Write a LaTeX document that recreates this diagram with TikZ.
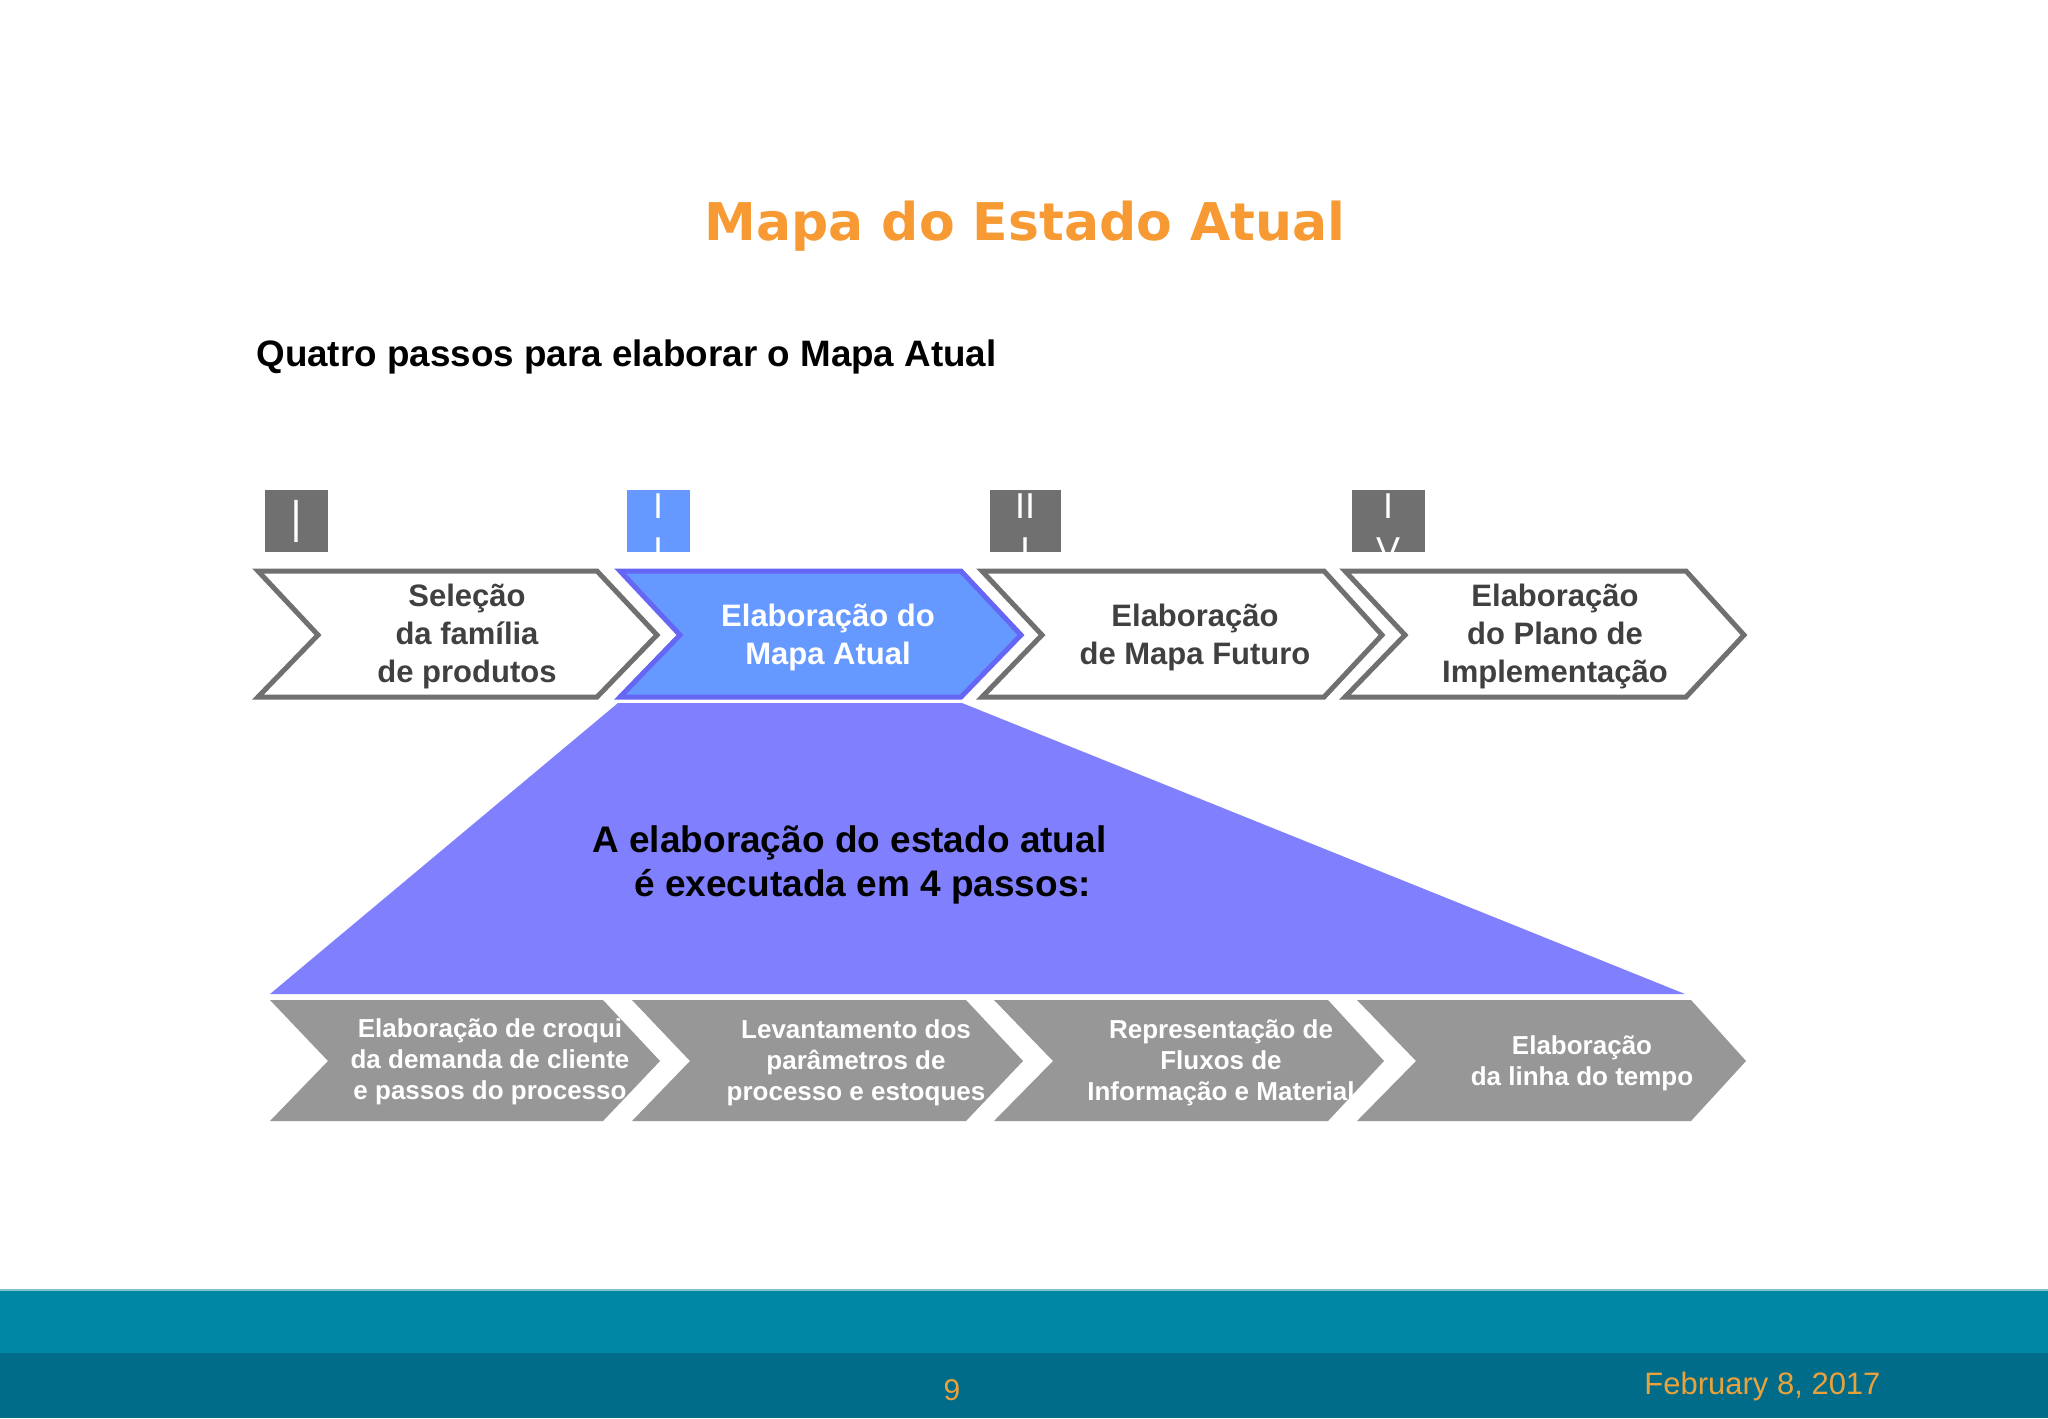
\documentclass[tikz,border=0pt]{standalone}
\usepackage{fontspec}
\setmainfont{Liberation Sans}
\newfontfamily\titlefont{DejaVu Sans}
\usetikzlibrary{positioning}
\definecolor{titleorange}{HTML}{F79A33}
\definecolor{chevgray}{HTML}{707070}
\definecolor{chevtext}{HTML}{404040}
\definecolor{stepblue}{HTML}{6699FF}
\definecolor{stepedge}{HTML}{6666F5}
\definecolor{trapblue}{HTML}{8080FF}
\definecolor{lowgray}{HTML}{979797}
\definecolor{bandtop}{HTML}{0087A3}
\definecolor{bandlow}{HTML}{006C89}
\definecolor{dateorange}{HTML}{E9A23B}

\begin{document}
\begin{tikzpicture}[x=0.5pt, y=-0.5pt,
  topchev/.style={draw=chevgray, line width=2.5pt, fill=white, line join=miter},
  curchev/.style={draw=stepedge, line width=2.5pt, fill=stepblue, line join=miter},
  lowchev/.style={fill=lowgray},
  toptext/.style={align=center, text=chevtext, font=\fontsize{15.5}{19}\selectfont\bfseries},
  lowtext/.style={align=center, text=white, font=\fontsize{13}{15.5}\selectfont\bfseries},
  numbox/.style={fill=chevgray, minimum height=31pt, inner sep=0pt},
  numtext/.style={text=white, align=center, inner sep=0pt, font=\fontsize{18}{22}\selectfont}]
  \useasboundingbox (0,0) rectangle (2048,1418);
  \fill[white] (0,0) rectangle (2048,1418);

  % headings
  \node[text=titleorange, font=\titlefont\fontsize{26}{30}\selectfont\bfseries] (title) at (1025,226) {Mapa do Estado Atual};
  \node[anchor=west, inner sep=0pt, font=\fontsize{18.4}{22}\selectfont\bfseries] (subtitle) at (256,357) {Quatro passos para elaborar o Mapa Atual};

  % step numbers
  \node[numbox, minimum width=31.5pt, path picture={
      \node[numtext] at (path picture bounding box.center) {\scalebox{1}[1.7]{I}};}] (n1) at (296,521) {};
  \node[numbox, fill=stepblue, minimum width=31.5pt, path picture={
      \node[numtext, anchor=north] at ([yshift=-1.5pt]path picture bounding box.north) {I\\I};}] (n2) at (658,521) {};
  \node[numbox, minimum width=35.5pt, path picture={
      \node[numtext, anchor=north] at ([yshift=-1.5pt]path picture bounding box.north) {II\\I};}] (n3) at (1025,521) {};
  \node[numbox, minimum width=36.5pt, path picture={
      \node[numtext, anchor=north] at ([yshift=-1.5pt]path picture bounding box.north) {I\\V};}] (n4) at (1388,521) {};

  % the four steps
  \draw[topchev] (258,571) -- (597,571) -- (657,635) -- (597,697) -- (258,697) -- (318,635) -- cycle;
  \draw[curchev] (620,571) -- (961,571) -- (1021,635) -- (961,697) -- (620,697) -- (680,635) -- cycle;
  \draw[topchev] (982,571) -- (1324,571) -- (1382,635) -- (1324,697) -- (982,697) -- (1042,635) -- cycle;
  \draw[topchev] (1345,571) -- (1686,571) -- (1744,635) -- (1686,697) -- (1345,697) -- (1405,635) -- cycle;
  \node[toptext] (sel) at (467,636) {Seleção\\da família\\de produtos};
  \node[toptext, text=white] (atual) at (828,637) {Elaboração do\\Mapa Atual};
  \node[toptext] (futuro) at (1195,637) {Elaboração\\de Mapa Futuro};
  \node[toptext] (plano) at (1555,636) {Elaboração\\do Plano de\\Implementação};

  % zoom into step II
  \fill[trapblue] (618,703) -- (962,703) -- (1685,994) -- (270,994) -- cycle;
  \node[anchor=west, align=left, inner sep=0pt, font=\fontsize{18.5}{22}\selectfont\bfseries] (trapnote) at (592,865)
    {A elaboração do estado atual\\\hspace*{21pt}é executada em 4 passos:};

  % the four sub-steps
  \fill[lowchev] (270,1000) -- (603,1000) -- (660,1061) -- (603,1121) -- (270,1121) -- (328,1061) -- cycle;
  \fill[lowchev] (632,1000) -- (966,1000) -- (1023,1061) -- (966,1121) -- (632,1121) -- (690,1061) -- cycle;
  \fill[lowchev] (994,1000) -- (1328,1000) -- (1384,1061) -- (1328,1121) -- (994,1121) -- (1053,1061) -- cycle;
  \fill[lowchev] (1357,1000) -- (1691,1000) -- (1746,1061) -- (1691,1121) -- (1357,1121) -- (1416,1061) -- cycle;
  \node[lowtext] (croqui) at (490,1062) {Elaboração de croqui\\da demanda de cliente\\e passos do processo};
  \node[lowtext] (param) at (856,1063) {Levantamento dos\\parâmetros de\\processo e estoques};
  \node[lowtext] (fluxos) at (1221,1063) {Representação de\\Fluxos de\\Informação e Material};
  \node[lowtext] (linha) at (1582,1063) {Elaboração\\da linha do tempo};

  % footer
  \fill[bandtop] (0,1290) rectangle (2048,1353);
  \fill[bandlow] (0,1353) rectangle (2048,1418);
  \draw[line width=1pt, color=bandtop!50!white] (0,1290) -- (2048,1290);
  \node[text=dateorange, font=\fontsize{15}{18}\selectfont] (pagenum) at (952,1390) {9};
  \node[text=dateorange, anchor=west, inner sep=0pt, font=\fontsize{15.5}{18}\selectfont] (date) at (1644,1386) {February 8, 2017};
\end{tikzpicture}
\end{document}
